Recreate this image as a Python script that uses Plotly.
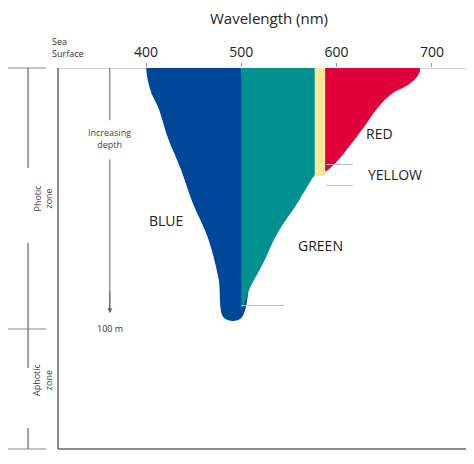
import plotly.graph_objects as go

# wavelength (nm) vs depth (m)
blue_x = [400, 402, 406, 413, 423, 436, 449, 465, 476, 482, 500, 500]
blue_d = [0, 5, 10, 15.3, 26.8, 38.3, 51.7, 65.1, 80.5, 95.8, 95.8, 0]
green_x = [500, 577, 577, 575, 559, 538, 523, 509, 502, 500]
green_d = [0, 0, 41, 42, 51.7, 63.2, 74.7, 84.3, 91.2, 92]
yellow_x = [577, 588, 588, 577]
yellow_d = [0, 0, 41, 41]
red_x = [588, 687, 685, 675, 659, 643, 628, 612, 599, 589, 588]
red_d = [0, 0, 3.1, 6.5, 9.6, 15.3, 23, 30.7, 36.4, 39.5, 39.5]
tick_vals = [400, 500, 600, 700]
labels = [("RED", 645, 25), ("YELLOW", 661, 41), ("GREEN", 583, 68), ("BLUE", 421, 58.6)]

fig = go.Figure()
for xs, ds, c in [(blue_x, blue_d, "#00479a"), (green_x, green_d, "#00908f"),
                  (yellow_x, yellow_d, "#f9e79b"), (red_x, red_d, "#e0003a")]:
    fig.add_trace(go.Scatter(x=xs, y=ds, fill="toself", fillcolor=c, mode="none",
                             line=dict(shape="spline"), hoverinfo="skip", showlegend=False))

X0, X1, Y0, Y1 = 307.6, 750.5, 146, 0
shapes = [
    dict(type="line", xref="paper", yref="paper", x0=0, x1=0, y0=0, y1=1, line=dict(color="#666", width=1.5)),
    dict(type="line", xref="paper", yref="paper", x0=0, x1=1, y0=0, y1=0, line=dict(color="#666", width=1.5)),
    dict(type="line", x0=X0, x1=X1, y0=0, y1=0, line=dict(color="#aaa", width=1.2), layer="below"),
    dict(type="line", x0=589, x1=617, y0=37, y1=37, line=dict(color="#bbb", width=1)),
    dict(type="line", x0=589, x1=617, y0=45, y1=45, line=dict(color="#bbb", width=1)),
    dict(type="line", x0=500, x1=545, y0=91, y1=91, line=dict(color="#bbb", width=1)),
    dict(type="line", x0=362, x1=362, y0=0, y1=20, line=dict(color="#666", width=1)),
    dict(type="line", x0=362, x1=362, y0=35, y1=93, line=dict(color="#666", width=1)),
]
def py(p):
    return (441 - p) / 381
for p in [60, 321, 441]:
    shapes.append(dict(type="line", xref="paper", yref="paper", x0=-0.118, x1=-0.028, y0=py(p), y1=py(p),
                       line=dict(color="#888", width=1)))
for a, b in [(60, 160), (235, 321), (321, 360), (420, 441)]:
    shapes.append(dict(type="line", xref="paper", yref="paper", x0=-0.071, x1=-0.071, y0=py(a), y1=py(b),
                       line=dict(color="#666", width=1.2)))

ann = [dict(x=t, y=d, text=t0, showarrow=False, font=dict(size=14, color="#222")) for t0, t, d in labels]
ann += [
    dict(x=0.5, y=1.0, xref="paper", yref="paper", xanchor="center", yanchor="bottom", text="Wavelength (nm)",
         showarrow=False, yshift=38, font=dict(size=15, color="#222")),
    dict(x=-0.02, y=1.0, xref="paper", yref="paper", xanchor="left", yanchor="bottom", yshift=6, align="left",
         text="Sea<br>Surface", showarrow=False, font=dict(size=9, color="#333")),
    dict(x=362, y=27, text="Increasing<br>depth", showarrow=False, font=dict(size=9, color="#444")),
    dict(x=362, y=100, text="100 m", showarrow=False, font=dict(size=9, color="#333")),
    dict(x=362, y=94, ax=362, ay=85, axref="x", ayref="y", text="", showarrow=True, arrowhead=2,
         arrowsize=1, arrowwidth=1, arrowcolor="#666"),
    dict(x=-0.071, y=py(190), xref="paper", yref="paper", text="Photic<br>zone", textangle=-90,
         showarrow=False, font=dict(size=9, color="#444")),
    dict(x=-0.071, y=py(390), xref="paper", yref="paper", text="Aphotic<br>zone", textangle=-90,
         showarrow=False, font=dict(size=9, color="#444")),
]

fig.update_layout(
    width=474, height=464, margin=dict(l=50, r=2, t=60, b=23, autoexpand=False),
    plot_bgcolor="white", paper_bgcolor="white", font=dict(family="Open Sans"),
    shapes=shapes, annotations=ann,
    xaxis=dict(range=[X0, X1], side="top", tickvals=tick_vals, ticks="outside", ticklen=4,
               tickcolor="#999", showgrid=False, zeroline=False, showline=False, automargin=False,
               tickfont=dict(size=14, color="#222")),
    yaxis=dict(range=[Y0, Y1], visible=False, showgrid=False, automargin=False),
)
fig.write_html("out.html")
